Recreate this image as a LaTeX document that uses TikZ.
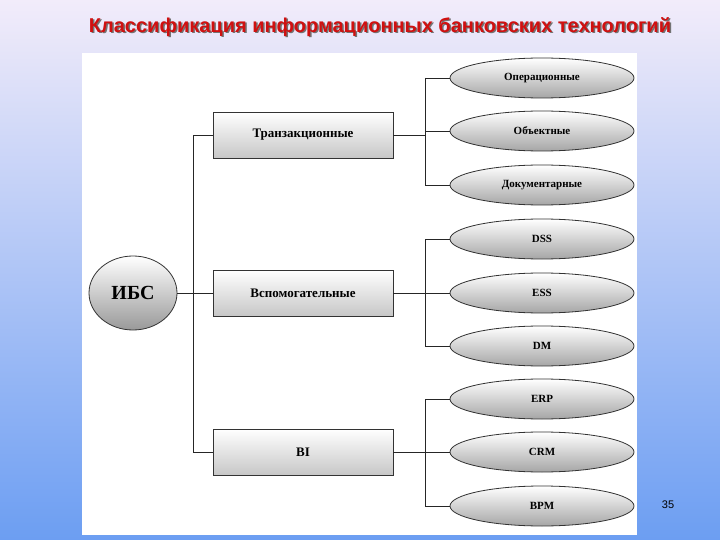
\documentclass[tikz,border=0pt]{standalone}
\usepackage{fontspec}
\setmainfont{Liberation Serif}
\newfontfamily\titlefont{Liberation Sans}
\usetikzlibrary{shapes.geometric,shadows}
\definecolor{bgtop}{HTML}{F2ECFA}
\definecolor{bgbot}{HTML}{6C9EF2}
\definecolor{tred}{HTML}{D01010}
\tikzset{
  boxnode/.style={draw=black!80, line width=0.8pt, minimum width=180pt, minimum height=46pt, top color=white, bottom color=black!22, font=\bfseries\fontsize{13}{13}\selectfont},
  oval/.style={ellipse, draw=black!80, line width=0.8pt, minimum width=184pt, minimum height=40pt, inner sep=0pt, top color=white, bottom color=black!35, font=\bfseries\fontsize{11}{11}\selectfont},
  link/.style={draw=black!85, line width=0.7pt}
}
\begin{document}
\begin{tikzpicture}[x=1pt,y=-1pt]
\useasboundingbox (0,0) rectangle (720,540);
\shade[top color=bgtop, bottom color=bgbot] (0,0) rectangle (720,540);
\fill[white] (82,53) rectangle (637,535);
\node[text=black!55, font=\titlefont\bfseries\fontsize{20}{20}\selectfont] at (381.5,28.5) {Классификация информационных банковских технологий};
\node (title) [text=tred, font=\titlefont\bfseries\fontsize{20}{20}\selectfont] at (380,27) {Классификация информационных банковских технологий};
\node (pg) [font=\titlefont\fontsize{11}{11}\selectfont] at (668,505) {35};
\node (ibs) [ellipse, draw=black!80, line width=0.8pt, minimum width=88pt, minimum height=74pt, top color=white, bottom color=black!40, font=\bfseries\fontsize{20}{20}\selectfont] at (133,293) {ИБС};
\node (b1) [boxnode] at (303,135) {Транзакционные};
\node (b2) [boxnode] at (303,293) {Вспомогательные};
\node (b3) [boxnode] at (303,452) {BI};
\node (e1) [oval] at (542,78) {Операционные};
\node (e2) [oval] at (542,131) {Объектные};
\node (e3) [oval] at (542,185) {Документарные};
\node (e4) [oval] at (542,239) {DSS};
\node (e5) [oval] at (542,293) {ESS};
\node (e6) [oval] at (542,346) {DM};
\node (e7) [oval] at (542,399) {ERP};
\node (e8) [oval] at (542,452) {CRM};
\node (e9) [oval] at (542,506) {BPM};
\coordinate (t1) at (193,135);
\coordinate (t3) at (193,452);
\draw[link] (ibs) -- (b2);
\draw[link] (b1.west) -- (t1) -- (t3) -- (b3.west);
\foreach \b/\i/\j/\k in {b1/e1/e2/e3, b2/e4/e5/e6, b3/e7/e8/e9}{
  \draw[link] (\b.east) -- (\b.east -| 425,0);
  \draw[link] (\i.west -| 425,0) -- (\k.west -| 425,0);
  \draw[link] (\i.west -| 425,0) -- (\i.west);
  \draw[link] (\j.west -| 425,0) -- (\j.west);
  \draw[link] (\k.west -| 425,0) -- (\k.west);
}
\end{tikzpicture}
\end{document}
